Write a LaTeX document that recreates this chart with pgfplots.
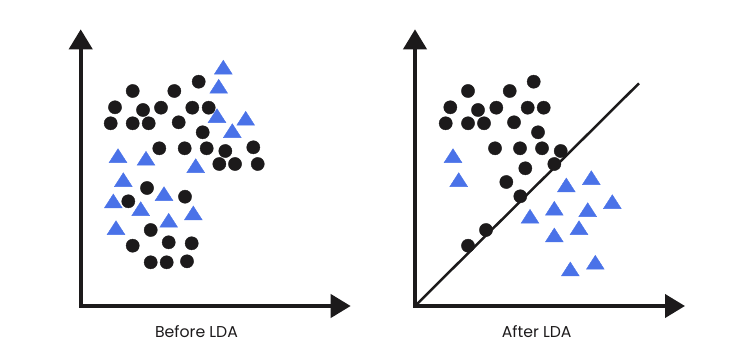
\documentclass[border=0pt]{standalone}
\usepackage{pgfplots}
\pgfplotsset{compat=1.18}
\usepackage{fontspec}
\setmainfont{Poppins}
\usetikzlibrary{arrows.meta}
\definecolor{ink}{HTML}{1C1A1B}
\definecolor{tri}{HTML}{4A72E8}
\pgfplotsset{
  ldaaxis/.style={
    scale only axis, axis lines*=left, ticks=none, clip=false,
    width=270bp, height=276.7bp, ymin=54, ymax=330.7,
    axis line style={ink, line width=4bp, line cap=rect,
      -{Triangle[length=20bp,width=23bp]}},
  },
  dots/.style={only marks, color=ink, mark=*, mark size=6.6bp, mark options={fill=ink, draw=none}},
  tris/.style={only marks, color=tri, mark=triangle*, mark size=10.3bp, mark options={fill=tri, draw=none, yscale=0.9}},
}
\begin{document}
\begin{tikzpicture}[x=1bp,y=1bp]
\path (0,0) rectangle (750,360);
% ---------------- Before LDA ----------------
\begin{axis}[ldaaxis, xmin=80.7, xmax=350.7, at={(80.7bp,54bp)}, anchor=south west]
\addplot[dots] coordinates {
(132.7,269) (174.3,269) (198.7,278.3) (115,252.7) (143,250) (161,252.3)
(192.3,252.3) (208.7,252.3) (110.7,236.7) (132.7,236.7) (148.7,236.7)
(178.7,237.7) (202.7,227.7) (159.3,211.7) (184.7,211.7) (206.7,211.7)
(225.3,209) (253.3,212.7) (219.3,196) (235,196) (257.7,196) (147,172)
(128.3,158.7) (185,163.3) (150.7,130) (132.7,114.3) (168.7,117.7)
(191.7,116.7) (150.7,97.7) (166.7,97.7) (187,98.7)
};
\addplot[tris] coordinates {
(223.3,290.5) (218.7,271.4) (217,242) (245.7,239.4) (232.3,227) (118,202)
(146,199.4) (195.7,192) (123.3,178) (113.3,156.7) (164,164) (140.7,149)
(193.3,144.7) (168.7,137.4) (116,130)
};
\node[font=\fontsize{15.7bp}{19bp}\selectfont, text=ink, anchor=base] at (axis cs:196.5,22.7) {Before LDA};
\end{axis}
% ---------------- After LDA ----------------
\begin{axis}[ldaaxis, xmin=415, xmax=685, at={(415bp,54bp)}, anchor=south west]
\addplot[ink, line width=2.5bp, no marks] coordinates {(415,54) (639,276.7)};
\addplot[dots] coordinates {
(468,269) (509.7,269) (533.7,278.3) (450.3,252.7) (478,250) (496.3,252.3)
(527.7,252.3) (543.7,252.3) (445.7,236.7) (468,236.7) (484,236.7)
(514,237.7) (538,227.7) (495,211.7) (520,211.7) (542,211.7) (560.7,209)
(554.3,196) (525.3,191.7) (506.3,178) (520.3,163.7) (486,130) (468,114.3)
};
\addplot[tris] coordinates {
(453,202) (458.7,178) (591.3,180) (566.3,172.7) (612.3,156) (530,141.4)
(554.3,149.4) (587.7,148) (579,130) (554.3,122.7) (595.3,95.4) (570.3,88.7)
};
\node[font=\fontsize{15.7bp}{19bp}\selectfont, text=ink, anchor=base] at (axis cs:536.7,22.7) {After LDA};
\end{axis}
\end{tikzpicture}
\end{document}
